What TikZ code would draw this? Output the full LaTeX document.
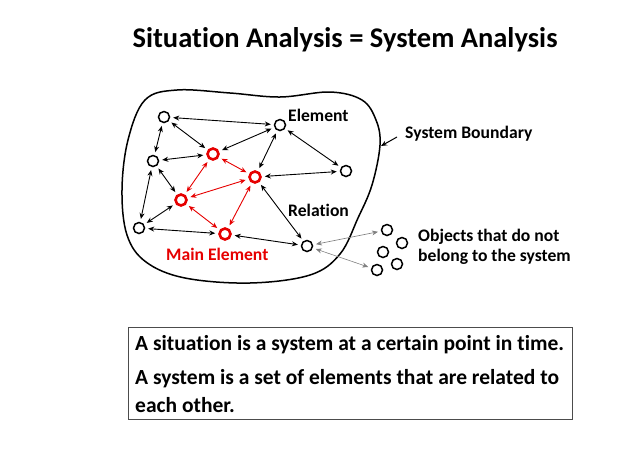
\documentclass[tikz,border=0pt]{standalone}
\usepackage{fontspec}
\setmainfont[Ligatures=NoCommon]{Carlito}
\usetikzlibrary{arrows.meta}
\definecolor{myred}{RGB}{230,0,0}
\tikzset{
  elem/.style={circle,draw=black,line width=1.5pt,minimum size=11pt,inner sep=0pt},
  mainel/.style={circle,draw=myred,line width=2.6pt,minimum size=11pt,inner sep=0pt},
  rel/.style={{Stealth[length=6pt,width=5pt]}-{Stealth[length=6pt,width=5pt]},line width=0.9pt,shorten <=3pt,shorten >=3pt},
  redrel/.style={rel,draw=myred},
  outrel/.style={rel,draw=gray},
  lbl/.style={anchor=west,inner sep=0pt,font=\bfseries\fontsize{17.6}{20}\selectfont},
}
\begin{document}
\begin{tikzpicture}[x=1pt,y=-1pt]
\useasboundingbox (0,0) rectangle (640,461);
\node[font=\bfseries\fontsize{28.5}{32}\selectfont,inner sep=0pt] (title) at (345,40) {Situation Analysis = System Analysis};
% boundary
\draw[line width=1.5pt] plot[smooth cycle,tension=0.6] coordinates {
(145,100) (177,90) (230,93) (280,97) (330,92) (362,100) (376,120) (380,145) (372,185) (358,218) (340,254) (310,275) (250,283) (185,278) (146,262) (127,235) (122,190) (128,140)};
% elements
\node[elem] (A) at (164,117) {};
\node[elem] (B) at (280,125) {};
\node[elem] (C) at (153,161) {};
\node[elem] (D) at (346,171) {};
\node[elem] (E) at (139,228) {};
\node[elem] (F) at (307,246) {};
\node[mainel] (R1) at (213,154) {};
\node[mainel] (R2) at (255,177) {};
\node[mainel] (R3) at (181,200) {};
\node[mainel] (R4) at (225,234) {};
% outside
\node[elem] (O1) at (387,230) {};
\node[elem] (O2) at (402,243) {};
\node[elem] (O3) at (383,252) {};
\node[elem] (O4) at (397,264) {};
\node[elem] (O5) at (377,270) {};
% relations
\draw[rel] (A) -- (B);
\draw[rel] (A) -- (C);
\draw[rel] (A) -- (R1);
\draw[rel] (B) -- (R1);
\draw[rel] (B) -- (R2);
\draw[rel] (B) -- (D);
\draw[rel] (C) -- (R1);
\draw[rel] (C) -- (R3);
\draw[rel] (C) -- (E);
\draw[rel] (D) -- (R2);
\draw[rel] (E) -- (R3);
\draw[rel] (E) -- (R4);
\draw[rel] (R2) -- (F);
\draw[rel] (R4) -- (F);
\draw[redrel] (R1) -- (R2);
\draw[redrel] (R1) -- (R3);
\draw[redrel] (R2) -- (R3);
\draw[redrel] (R2) -- (R4);
\draw[redrel] (R3) -- (R4);
\draw[outrel,line width=0.6pt] (F) -- (O1);
\draw[outrel,line width=0.6pt] (F) -- (O5);
% labels
\node[lbl] (lelem) at (288,115) {Element};
\node[lbl] (lrel) at (288,210) {Relation};
\node[lbl,text=myred] (lmain) at (166,254) {Main Element};
\node[lbl] (lsys) at (405,134) {System Boundary};
\coordinate (bpt) at (381,146);
\coordinate (sstart) at (397,137);
\draw[-{Stealth[length=6pt,width=5pt]},line width=1pt] (sstart) -- (bpt);
\node[lbl,align=left,font=\bfseries\fontsize{17.6}{20}\selectfont] (lobj) at (418,247) {Objects that do not\\belong to the system};
% box
\node[draw=black!70,line width=0.8pt,minimum width=444pt,minimum height=92pt,inner sep=0pt] (box) at (350,373) {};
\node[anchor=west,inner sep=0pt,font=\bfseries\fontsize{21.5}{22}\selectfont] (t1) at (135,345) {A situation is a system at a certain point in time.};
\node[anchor=west,inner sep=0pt,align=left,font=\bfseries\fontsize{21.5}{28}\selectfont] (t2) at (135,391) {A system is a set of elements that are related to\\each other.};
\end{tikzpicture}
\end{document}
